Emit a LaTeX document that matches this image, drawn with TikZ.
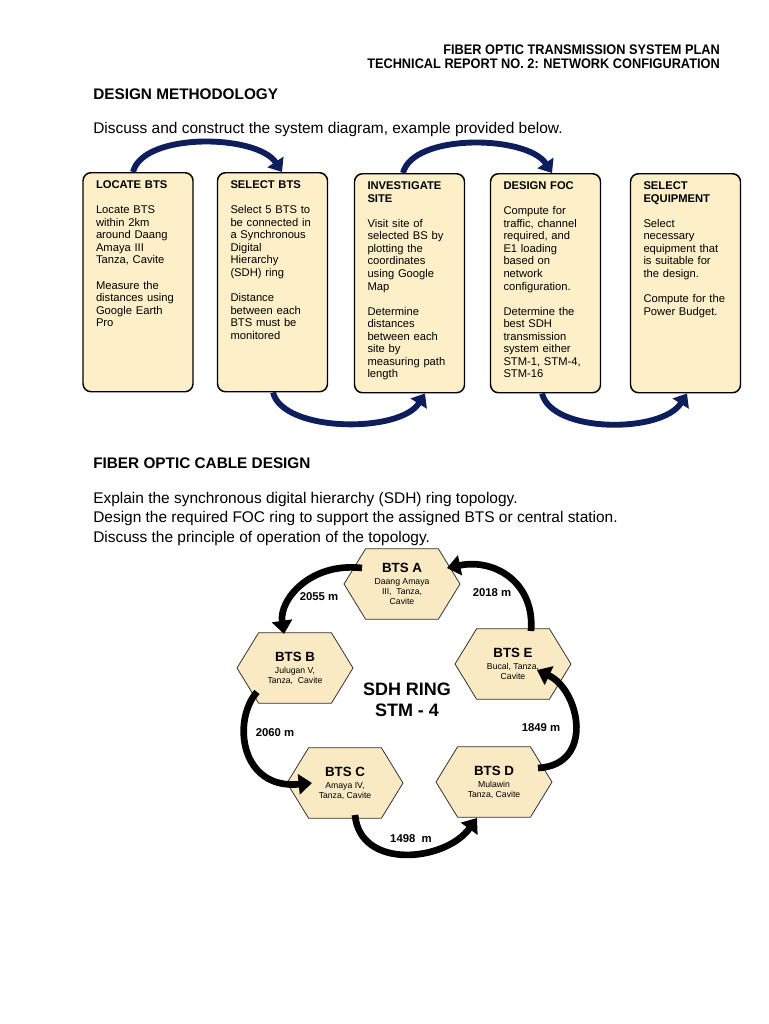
\documentclass[tikz,border=0pt]{standalone}
\usepackage{fontspec}
\setmainfont{Liberation Sans}
\newfontfamily\headfont[FakeStretch=0.92]{Liberation Sans}
\usetikzlibrary{positioning,arrows.meta,shapes.symbols}
\definecolor{boxfill}{RGB}{253,239,200}
\definecolor{hexfill}{RGB}{250,234,196}
\definecolor{flownavy}{RGB}{14,30,92}
\newcommand{\fs}[2]{\fontsize{#1}{#2}\selectfont}

\begin{document}
\begin{tikzpicture}[x=0.75pt,y=-0.75pt,
  stepbox/.style={draw=black, line width=1.1pt, rounded corners=6pt, fill=boxfill,
    text width=63pt, inner xsep=9.75pt, inner ysep=3pt, align=left, anchor=north,
    text height=9pt, text depth=149.25pt, font=\fs{8.4pt}{9.4pt}},
  hexbox/.style={shape=signal, signal to=west and east, signal pointer angle=117,
    draw=black!80, line width=0.6pt, fill=hexfill, minimum width=87pt,
    minimum height=53pt, inner sep=0pt, align=center, font=\fs{6.5pt}{7.5pt}},
  flow/.style={flownavy, line width=4.4pt, -{Triangle[length=9pt,width=14pt]}},
  ring/.style={black, line width=5pt, -{Triangle[length=10pt,width=15pt]}},
  dist/.style={font=\bfseries\fs{8.5pt}{10pt}},
  heading/.style={anchor=base west, inner sep=0pt, font=\bfseries\fs{11.5pt}{14pt}},
  body/.style={anchor=base west, inner sep=0pt, font=\fs{11.6pt}{14pt}},
  header/.style={anchor=base east, inner sep=0pt, font=\headfont\bfseries\fs{10.4pt}{12pt}}]
\useasboundingbox (0,0) rectangle (768,1024);

% page text
\node[header] (plan) at (720,54.5) {FIBER OPTIC TRANSMISSION SYSTEM PLAN};
\node[header] (report) at (720,68.5) {TECHNICAL REPORT NO. 2: NETWORK CONFIGURATION};
\node[heading] (method) at (93,99.5) {DESIGN METHODOLOGY};
\node[body] (discuss) at (93,133) {Discuss and construct the system diagram, example provided below.};
\node[heading] (focdesign) at (93,468.5) {FIBER OPTIC CABLE DESIGN};
\node[body] (explain) at (93,503) {Explain the synchronous digital hierarchy (SDH) ring topology.};
\node[body] (require) at (93,522.5) {Design the required FOC ring to support the assigned BTS or central station.};
\node[body] (principle) at (93,542) {Discuss the principle of operation of the topology.};

% design steps
\node[stepbox] (locate) at (138,172) {\textbf{LOCATE BTS}\\[9.4pt]
  Locate BTS\\within 2km\\around Daang\\Amaya III\\Tanza, Cavite\\[9.4pt]
  Measure the\\distances using\\Google Earth\\Pro};
\node[stepbox] (select) at (272.5,172) {\textbf{SELECT BTS}\\[9.4pt]
  Select 5 BTS to\\be connected in\\a Synchronous\\Digital\\Hierarchy\\(SDH) ring\\[9.4pt]
  Distance\\between each\\BTS must be\\monitored};
\node[stepbox] (investigate) at (409.5,173) {\textbf{INVESTIGATE}\\\textbf{SITE}\\[9.4pt]
  Visit site of\\selected BS by\\plotting the\\coordinates\\using Google\\Map\\[9.4pt]
  Determine\\distances\\between each\\site by\\measuring path\\length};
\node[stepbox] (design) at (545.5,173) {\textbf{DESIGN FOC}\\[9.4pt]
  Compute for\\traffic, channel\\required, and\\E1 loading\\based on\\network\\configuration.\\[9.4pt]
  Determine the\\best SDH\\transmission\\system either\\STM-1, STM-4,\\STM-16};
\node[stepbox] (equipment) at (685.5,173) {\textbf{SELECT}\\\textbf{EQUIPMENT}\\[9.4pt]
  Select\\necessary\\equipment that\\is suitable for\\the design.\\[9.4pt]
  Compute for the\\Power Budget.};

\draw[flow] ([shift={(-5,0)}]locate.north) .. controls +(10,-40) and +(-25,-38) .. ([shift={(9.5,0)}]select.north);
\draw[flow] ([shift={(0.5,0)}]select.south) .. controls +(10,40) and +(-25,40) .. ([shift={(15.5,0)}]investigate.south);
\draw[flow] ([shift={(-6.5,0)}]investigate.north) .. controls +(10,-40) and +(-25,-38) .. ([shift={(6.5,0)}]design.north);
\draw[flow] ([shift={(-3.5,0)}]design.south) .. controls +(10,40) and +(-25,40) .. ([shift={(1.5,0)}]equipment.south);

% SDH ring
\node[hexbox] (btsA) at (402,584) {{\bfseries\fs{10pt}{11pt}BTS A}\\[1.5pt]Daang Amaya\\III,~ Tanza,\\Cavite};
\node[hexbox] (btsB) at (295,668) {{\bfseries\fs{10pt}{11pt}BTS B}\\[1.5pt]Julugan V,\\Tanza,~ Cavite};
\node[hexbox] (btsE) at (513,664) {{\bfseries\fs{10pt}{11pt}BTS E}\\[1.5pt]Bucal, Tanza,\\Cavite};
\node[hexbox] (btsC) at (345,783) {{\bfseries\fs{10pt}{11pt}BTS C}\\[1.5pt]Amaya IV,\\Tanza, Cavite};
\node[hexbox] (btsD) at (494,782) {{\bfseries\fs{10pt}{11pt}BTS D}\\[1.5pt]Mulawin\\Tanza, Cavite};
\node[align=center, font=\bfseries\fs{13.5pt}{15.75pt}] (ring) at (407,699.5) {SDH RING\\STM - 4};

\draw[ring] ([shift={(-40,-16)}]btsA.center) .. controls +(-52,-6) and +(-5,-34) .. ([shift={(-11,-34)}]btsB.center);
\draw[ring] ([shift={(-38,24)}]btsB.center) .. controls +(-25,28) and +(-72,7) .. ([shift={(-33,0)}]btsC.center);
\draw[ring] ([shift={(10,32)}]btsC.center) .. controls +(5,55) and +(-32,44) .. ([shift={(-17,36)}]btsD.center);
\draw[ring] ([shift={(44,-14)}]btsD.center) .. controls +(57,-3) and +(43,20) .. ([shift={(24,6)}]btsE.center);
\draw[ring] ([shift={(18,-33)}]btsE.center) .. controls +(4,-48) and +(48,-10) .. ([shift={(45,-16)}]btsA.center);

\node[dist] (dAB) at (319,597) {2055 m};
\node[dist] (dEA) at (492,593) {2018 m};
\node[dist] (dBC) at (275,733) {2060 m};
\node[dist] (dDE) at (541,728) {1849 m};
\node[dist] (dCD) at (411,839) {1498~ m};
\end{tikzpicture}
\end{document}
